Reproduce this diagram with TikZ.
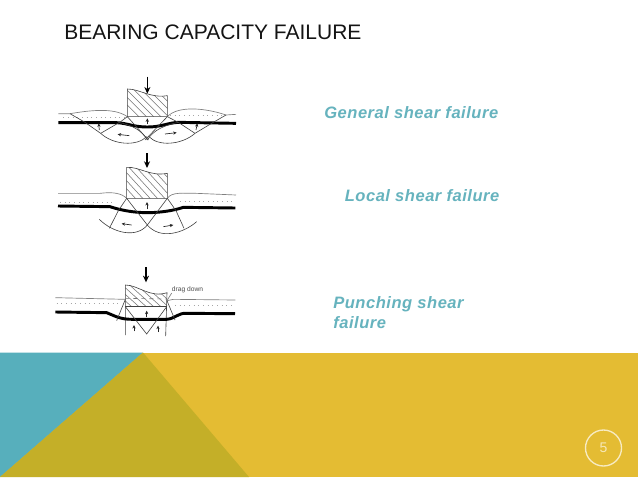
\documentclass[tikz,border=0pt]{standalone}
\usepackage{fontspec}
\setmainfont{Liberation Sans}
\newfontfamily\capfont[LetterSpace=3.2,BoldItalicFont={Liberation Sans Bold Italic}]{Liberation Sans}
\usetikzlibrary{arrows.meta}
\definecolor{teal1}{HTML}{57AFBC}
\definecolor{gold1}{HTML}{E4BC33}
\definecolor{olive1}{HTML}{C4AF28}
\definecolor{captioncol}{HTML}{66B3BE}
\tikzset{
  caption/.style={anchor=west,inner sep=0pt,font=\capfont\fontsize{12.4}{15}\selectfont\bfseries\itshape,text=captioncol},
  thin line/.style={draw=black!75,line width=0.45pt},
  soft line/.style={draw=black!50,line width=0.5pt},
  seam/.style={draw=black,line width=2.2pt},
  load/.style={draw=black,line width=0.9pt,-{Stealth[length=5pt,width=4.5pt]}},
  tiny arrow/.style={draw=black!85,line width=0.5pt,-{Stealth[length=2.6pt,width=2.4pt]}},
  hatch/.style={draw=black!55,line width=0.4pt},
  sand/.style={draw=black!35,line width=0.5pt,dash pattern=on 0.5pt off 3pt},
}
\begin{document}
\begin{tikzpicture}[x=0.75pt,y=-0.75pt]
\useasboundingbox (0,0) rectangle (638,479);
\fill[white] (0,0) rectangle (638,479);
% bands
\fill[gold1] (0,352.5) rectangle (638,477);
\fill[teal1] (0,352.5) -- (143,352.5) -- (0,477) -- cycle;
\fill[olive1] (143,352.5) -- (249,477) -- (0,477) -- cycle;
\node[circle,draw=white!70!gold1,line width=1pt,minimum size=27pt,inner sep=0pt,text=white!65!gold1,font=\fontsize{10.5}{12}\selectfont] (pagenum) at (603.5,448) {5};
% title
\node[anchor=west,inner sep=0pt,font=\fontsize{15.75}{18}\selectfont,text=black!92] (title) at (64,32) {BEARING CAPACITY FAILURE};
% captions
\node[caption] (cap1) at (324,112.5) {General shear failure};
\node[caption] (cap2) at (344.5,195.5) {Local shear failure};
\node[caption,align=left] (cap3) at (333,313) {Punching shear\\failure};
% Diagram 1
\begin{scope}[shift={(50,65)},x=0.25pt,y=-0.25pt]
  \begin{scope}
    \clip (232,72) .. controls (270,72) and (300,100) .. (352,92) -- (352,155) -- (232,155) -- cycle;
    \foreach \d in {0,22,...,240} \draw[hatch] (232+\d-60,60) -- (232+\d+60,180);
  \end{scope}
  \draw[thin line] (232,155) -- (232,72) .. controls (270,72) and (300,100) .. (352,92) -- (352,155) -- cycle;
  \draw[load] (292,35) -- (292,86);
  \draw[soft line] (25,146) -- (60,146) .. controls (110,138) and (190,125) .. (232,155);
  \draw[soft line] (352,155) .. controls (385,120) and (470,130) .. (528,150) -- (558,148);
  \draw[sand] (40,156) -- (225,156) (360,152) -- (525,152);
  \draw[seam] (25,173) -- (200,173) .. controls (235,175) and (250,186) .. (292,186) .. controls (335,186) and (350,174) .. (385,172) -- (558,175);
  % wedge boundaries
  \draw[thin line] (60,146) -- (105,172) -- (152,205) -- (212,170) -- (232,155);
  \draw[thin line] (528,150) -- (490,172) -- (435,205) -- (385,172) -- (352,155);
  \draw[thin line] (232,155) -- (295,225) (352,155) -- (285,225);
  \draw[thin line] (205,172) .. controls (245,180) and (275,195) .. (292,225);
  \draw[thin line] (385,172) .. controls (345,180) and (310,195) .. (292,225);
  \draw[thin line] (152,205) .. controls (190,240) and (260,245) .. (290,215);
  \draw[thin line] (435,205) .. controls (395,240) and (325,245) .. (297,215);
  \draw[tiny arrow] (292,178) -- (292,160);
  \draw[tiny arrow] (148,195) -- (146,175);
  \draw[tiny arrow] (438,195) -- (442,175);
  \draw[tiny arrow] (238,212) -- (203,208);
  \draw[tiny arrow] (345,207) -- (380,203);
\end{scope}
% Diagram 2
\begin{scope}[shift={(50,150)},x=0.25pt,y=-0.25pt]
  \begin{scope}
    \clip (230,52) .. controls (270,50) and (300,80) .. (352,70) -- (352,145) -- (230,145) -- cycle;
    \foreach \d in {0,22,...,260} \draw[hatch] (230+\d-70,40) -- (230+\d+40,160);
  \end{scope}
  \draw[thin line] (230,145) -- (230,52) .. controls (270,50) and (300,80) .. (352,70) -- (352,145) -- cycle;
  \draw[load] (291,10) -- (291,54);
  \draw[soft line] (24,130) -- (150,130) .. controls (190,125) and (215,130) .. (230,145);
  \draw[soft line] (352,145) .. controls (365,125) and (400,130) .. (440,130) -- (558,135);
  \draw[sand] (30,158) -- (190,158) (390,155) -- (550,155);
  \draw[seam] (24,168) -- (180,170) .. controls (210,180) and (250,188) .. (292,188) .. controls (330,188) and (370,182) .. (400,172) -- (556,174);
  \draw[thin line] (230,145) -- (205,182) -- (178,235);
  \draw[thin line] (352,145) -- (378,182) -- (402,235);
  \draw[thin line] (230,145) -- (292,225) (352,145) -- (292,225);
  \draw[thin line] (148,208) .. controls (190,250) and (260,265) .. (292,225);
  \draw[thin line] (440,215) .. controls (400,250) and (330,270) .. (292,225);
  \draw[tiny arrow] (291,178) -- (291,156);
  \draw[tiny arrow] (245,225) -- (215,221);
  \draw[tiny arrow] (340,230) -- (370,225);
\end{scope}
% Diagram 3
\begin{scope}[shift={(50,260)},x=0.25pt,y=-0.25pt]
  \begin{scope}
    \clip (226,75) .. controls (265,75) and (300,115) .. (351,98) -- (351,140) -- (226,140) -- cycle;
    \foreach \d in {0,22,...,260} \draw[hatch] (226+\d-70,60) -- (226+\d+30,150);
  \end{scope}
  \draw[thin line] (226,225) -- (226,75) .. controls (265,75) and (300,115) .. (351,98) -- (347,228);
  \draw[thin line] (226,140) -- (350,140);
  \draw[draw=black!55,line width=0.5pt,dashed] (226,115) -- (350,117);
  \draw[load] (288,22) -- (288,67);
  \draw[soft line] (16,113) -- (226,118);
  \draw[soft line] (351,122) -- (370,118) -- (556,120);
  \draw[sand] (20,130) -- (215,130) (375,135) -- (550,135);
  \draw[seam] (16,156) -- (170,158) .. controls (200,170) and (210,178) .. (250,178) -- (350,178) .. controls (375,176) and (385,158) .. (410,160) -- (555,161);
  \draw[thin line] (226,118) -- (200,182) (351,122) -- (375,180);
  \draw[thin line] (226,140) -- (290,222) -- (350,140);
  \draw[tiny arrow] (290,172) -- (290,152);
  \draw[tiny arrow] (252,214) -- (252,195);
  \draw[tiny arrow] (324,216) -- (324,197);
  \node[anchor=west,inner sep=0pt,font=\fontsize{5}{6}\selectfont,text=black!70] (drag) at (365,89) {drag down};
  \coordinate (dragend) at (351,122);
  \draw[soft line] (drag.south west) -- (dragend);
\end{scope}
\end{tikzpicture}
\end{document}
